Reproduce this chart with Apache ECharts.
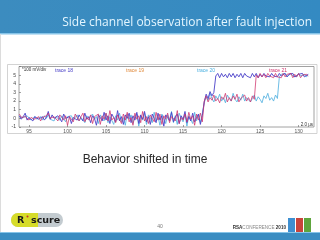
<!DOCTYPE html>
<html>
<head>
<meta charset="utf-8">
<script src="https://cdn.jsdelivr.net/npm/echarts@6/dist/echarts.min.js"></script>
<style>
html,body{margin:0;padding:0;background:#fff;}
#main{width:320px;height:240px;}
</style>
</head>
<body>
<div id="main"></div>
<script>
// sample grid of the scope capture (us)
var t0 = 93.75;
var dt = 0.25;

// tick labels on the time axis
var timeTicks = [95, 100, 105, 110, 115, 120, 125, 130];
var voltTicks = [-1, 0, 1, 2, 3, 4, 5];

// trace 18 (blue)
var blueNoise = [0.3,-0.1,0.2,0.6,-0.2,0.1,0.0,-0.3,0.2,0.1,
	-0.1,0.0,0.2,-0.2,0.1,0.8,-0.1,0.4,0.0,-0.2,
	0.3,0.1,-0.4,0.5,0.0,-0.1,0.2,-0.6,0.1,0.3,
	-0.2,0.4,0.0,-0.3,0.6,-0.1,0.2,-0.5,0.3,0.0,
	-0.8,0.4,0.1,-0.3,0.7,-0.2,0.3,-0.6,0.5,0.1,
	-0.4,0.9,-0.3,0.2,-0.7,0.4,0.0,0.6,-0.5,0.3,
	-0.2,0.7,-0.6,0.4,-0.1,0.8,-0.4,0.2,-0.7,0.5,
	0.0,-0.5,0.6,-0.2,0.3,-0.9,0.4,0.1,-0.3,0.7,
	-0.4,0.2,0.5,-0.6,0.3,-0.1,0.8,-0.5,0.2,-0.3,
	0.6,-0.4,0.1,0.5,-0.7,0.3];
var blueMid = [1.9,2.8,2.3,3.1,2.6,3.0];
var blueTop = [4.9,5.2,4.7,5.2,4.8,5.1,4.7,5.2,4.8,5.2,
	4.7,5.1,4.8,5.2,4.7,5.2,4.9,5.1,4.7,5.2,
	4.8,5.2,4.7,5.1,4.8,5.2,4.9,5.1,4.8,5.2,
	4.9,5.1,4.8,5.2,4.9,5.0,5.2,4.8,5.1,4.9,
	5.2,4.8,5.0,5.1,4.9,5.2,4.8,5.0,5.1];

// trace 21 (pink)
var pinkNoise = [0.5,0.1,-0.1,0.2,0.0,-0.2,0.1,0.3,-0.1,0.0,
	0.2,-0.3,0.1,0.0,0.3,0.6,0.0,-0.2,0.2,0.1,
	-0.3,0.4,0.1,-0.2,0.3,-0.8,0.2,0.0,-0.4,0.5,
	0.1,-0.3,0.2,0.6,-0.4,0.1,-0.2,0.4,-0.6,0.2,
	0.0,0.5,-0.7,0.3,-0.1,0.6,-0.3,0.9,-0.2,0.1,
	-0.5,0.4,0.2,-0.6,0.5,-0.2,0.7,-0.4,0.1,-0.8,
	0.6,-0.1,0.3,-0.5,0.8,-0.3,0.2,-0.6,0.4,0.0,
	-0.4,0.7,-0.2,0.5,-0.7,0.3,-0.1,0.6,-0.5,0.2,
	0.4,-0.3,0.9,-0.6,0.1,-0.2,0.5,-0.4,0.7,-0.1,
	0.3,-0.8,0.5,-0.2,0.6,-0.4];
var pinkMid = [2.0,2.6,1.9,2.4,2.1,2.7,2.0,2.3,1.8,2.5,
	2.2,2.9,1.9,2.4,2.0,2.6,2.2,2.8,1.9,2.3,
	2.1,2.7,2.0,2.4,1.9,2.6,2.2];
var pinkTop = [5.0,4.7,5.2,4.8,5.1,4.7,5.2,4.9,5.1,4.7,
	5.2,4.8,5.0,4.7,5.2,4.8,5.1,4.9,5.2,4.7,
	5.1,4.8,5.2,4.7,5.0,4.8,5.1,4.9];

// trace 20 (cyan)
var cyanNoise = [0.2,0.0,0.1,-0.1,0.3,0.1,-0.2,0.0,0.2,-0.1,
	0.1,0.2,-0.2,0.3,0.0,0.4,-0.1,0.1,-0.3,0.2,
	0.0,-0.2,0.3,0.1,-0.4,0.2,0.0,0.3,-0.2,0.1,
	0.4,-0.3,0.1,0.2,-0.5,0.3,0.0,-0.2,0.5,-0.1,
	0.2,-0.6,0.4,0.0,-0.3,0.6,-0.5,0.2,0.1,-0.7,
	0.3,-0.2,0.6,-0.4,0.1,-0.8,0.5,-0.1,0.4,-0.6,
	0.2,0.5,-0.9,0.3,-0.2,0.6,-0.7,0.4,0.1,-0.5,
	0.7,-0.3,0.2,-0.8,0.5,0.0,-0.6,0.4,-0.2,0.8,
	-0.5,0.3,-0.7,0.6,0.0,-0.4,0.5,-0.9,0.3,0.1,
	-0.6,0.7,-0.3,0.4,-0.5,0.6];
var cyanMid = [1.8,2.5,2.1,2.9,2.3,1.9,2.6,2.2,2.8,2.0,
	2.4,1.8,2.7,2.3,2.0,2.9,2.2,1.9,2.5,2.1,
	2.8,2.0,2.4,2.6,1.9,2.3,2.7,2.0,2.5,2.2,
	1.8,2.6,2.3,2.9,2.1,2.4,2.0,2.7,2.3];
var cyanTop = [4.8,5.1,4.9,5.2,4.8,5.0,5.2,4.9,5.1,4.8,5.2,4.9,5.0,5.1,4.8,5.0];

var traceNames = ['trace 18', 'trace 19', 'trace 20', 'trace 21'];

var blueVals = blueNoise.concat(blueMid, blueTop);
var pinkVals = pinkNoise.concat(pinkMid, pinkTop);
var cyanVals = cyanNoise.concat(cyanMid, cyanTop);

function toPairs(vals){
	var out = [];
	for(var i = 0; i < vals.length; i++){
		out.push([t0 + i * dt, vals[i]]);
	}
	return out;
}

var chart = echarts.init(document.getElementById('main'), null, {renderer:'canvas'});

var option = {
	animation:false,
	backgroundColor:'#fff',
	grid:{
		left:19,
		right:6,
		top:66.5,
		bottom:113,
		show:true,
		borderColor:'#8a8a8a',
		borderWidth:0.8
	},
	xAxis:{
		type:'value',
		position:'bottom',
		min:93.7,
		max:132.0,
		splitNumber:8,
		axisLine:{show:false, onZero:false},
		splitLine:{show:false},
		axisTick:{show:true, inside:true, length:2, lineStyle:{color:'#666', width:0.6}},
		axisLabel:{
			color:'#555', fontSize:5, fontFamily:'Liberation Sans', margin:2,
			showMinLabel:false, showMaxLabel:false,
			formatter:function(v){
				return timeTicks.indexOf(Math.round(v * 100) / 100) > -1 ? String(v) : '';
			}
		}
	},
	yAxis:{
		type:'value',
		position:'left',
		min:-1,
		max:6,
		interval:1,
		axisLine:{show:false, onZero:false},
		splitLine:{show:false},
		axisTick:{show:true, inside:true, length:2, lineStyle:{color:'#666', width:0.6}},
		axisLabel:{
			color:'#444', fontSize:5, fontFamily:'Liberation Sans', margin:3,
			formatter:function(v){
				return voltTicks.indexOf(v) > -1 ? String(v) : '';
			}
		}
	},
	series:[
		{
			name:traceNames[2], type:'line', showSymbol:false, symbol:'none',
			data:toPairs(cyanVals),
			lineStyle:{color:'#5cb6e2', width:0.9}
		},
		{
			name:traceNames[0], type:'line', showSymbol:false, symbol:'none',
			data:toPairs(blueVals),
			lineStyle:{color:'#4a40c8', width:0.9}
		},
		{
			name:traceNames[3], type:'line', showSymbol:false, symbol:'none',
			data:toPairs(pinkVals),
			lineStyle:{color:'#d0326c', width:0.9, opacity:0.85}
		}
	],
	graphic:[
		// title band
		{type:'rect', shape:{x:0, y:0, width:320, height:33}, style:{fill:new echarts.graphic.LinearGradient(0,0,1,0,[{offset:0,color:'#3c8cbf'},{offset:1,color:'#348ac2'}])}, silent:true},
		{type:'rect', shape:{x:0, y:33, width:320, height:1.5}, style:{fill:'#86c4e8'}, silent:true},
		{type:'text', x:312, y:23, style:{text:'Side channel observation after fault injection', fill:'#e4f6ff', fontSize:12, fontFamily:'Open Sans', align:'right', verticalAlign:'middle'}},
		// left slide edge
		{type:'rect', shape:{x:0, y:34, width:1, height:198}, style:{fill:'#dcdcdc'}, silent:true},
		// scope picture frame
		{type:'rect', shape:{x:7.5, y:64.5, width:309.5, height:69}, style:{fill:'none', stroke:'#c8c8c8', lineWidth:0.8}, silent:true},
		{type:'text', x:22, y:70, style:{text:'*100 mV/div', fill:'#333', fontSize:4.5, fontFamily:'Liberation Sans', verticalAlign:'middle'}},
		{type:'text', x:55, y:71, style:{text:traceNames[0], fill:'#4a40c8', fontSize:5, fontFamily:'Liberation Sans', verticalAlign:'middle'}},
		{type:'text', x:126, y:71, style:{text:traceNames[1], fill:'#e08a3c', fontSize:5, fontFamily:'Liberation Sans', verticalAlign:'middle'}},
		{type:'text', x:197, y:71, style:{text:traceNames[2], fill:'#4ab0e0', fontSize:5, fontFamily:'Liberation Sans', verticalAlign:'middle'}},
		{type:'text', x:269, y:71, style:{text:traceNames[3], fill:'#d0326c', fontSize:5, fontFamily:'Liberation Sans', verticalAlign:'middle'}},
		{type:'text', x:313, y:125, style:{text:'2.0 µs', fill:'#333', fontSize:4.5, fontFamily:'Liberation Sans', align:'right', verticalAlign:'middle'}},
		// caption
		{type:'text', x:145, y:160, style:{text:'Behavior shifted in time', fill:'#2a2a2a', fontSize:12, fontFamily:'Liberation Sans', align:'center', verticalAlign:'middle'}},
		// footer
		{type:'rect', shape:{x:0, y:232, width:320, height:8}, style:{fill:'#3a8dc2'}, silent:true},
		{type:'rect', shape:{x:0, y:232, width:320, height:1}, style:{fill:'#86c4e8'}, silent:true},
		// riscure logo
		{type:'rect', shape:{x:11, y:213, width:52, height:14, r:7}, style:{fill:'#c3cbd0'}, silent:true},
		{type:'rect', shape:{x:11, y:213, width:27, height:14, r:[7,0,0,7]}, style:{fill:'#d6dc2a'}, silent:true},
		{type:'text', x:17, y:220.5, style:{text:'R', fill:'#1b1b1b', fontSize:9.5, fontWeight:'bold', fontFamily:'DejaVu Sans', verticalAlign:'middle'}},
		{type:'circle', shape:{cx:27.5, cy:216.5, r:1}, style:{fill:'#c8302c'}, silent:true},
		{type:'text', x:31, y:220.5, style:{text:'scure', fill:'#1b1b1b', fontSize:9.5, fontWeight:'bold', fontFamily:'DejaVu Sans', verticalAlign:'middle'}},
		{type:'text', x:160, y:227, style:{text:'40', fill:'#777', fontSize:5, fontFamily:'Liberation Sans', align:'center', verticalAlign:'middle'}},
		{type:'text', x:286, y:228, style:{
			text:'{a|RSA}{b|CONFERENCE}{a| 2010}',
			fontFamily:'Liberation Sans', align:'right', verticalAlign:'middle',
			rich:{a:{fontSize:4.6, fontWeight:'bold', fill:'#333'}, b:{fontSize:4.6, fill:'#888'}}
		}},
		{type:'rect', shape:{x:288, y:218, width:7, height:14}, style:{fill:'#3d8fd1'}, silent:true},
		{type:'rect', shape:{x:296, y:218, width:7, height:14}, style:{fill:'#c8443c'}, silent:true},
		{type:'rect', shape:{x:304, y:218, width:7, height:14}, style:{fill:'#5ea53d'}, silent:true}
	]
};

chart.setOption(option);
</script>
</body>
</html>
